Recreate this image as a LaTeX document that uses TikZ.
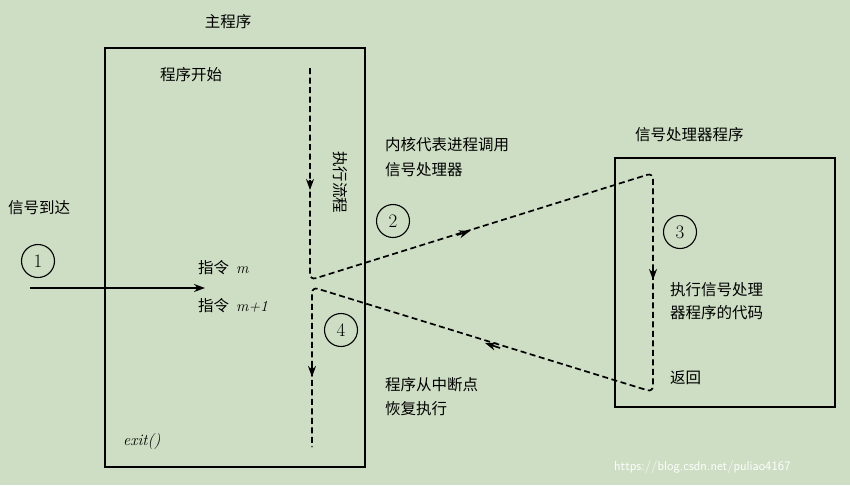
\documentclass[tikz,border=0pt]{standalone}
\usepackage{fontspec}
\newfontfamily\cjk{Noto Sans CJK SC}
\usetikzlibrary{arrows.meta}
\definecolor{bg}{RGB}{206,222,196}
\newcommand{\itm}[1]{{\rmfamily\itshape #1}}
\begin{document}
\begin{tikzpicture}[x=1pt,y=-1pt,
  lbl/.style={font=\cjk\fontsize{15.5}{18}\selectfont,inner sep=0pt,anchor=west},
  circ/.style={draw,circle,line width=1.1pt,minimum size=33pt,inner sep=0pt,font=\fontsize{19}{19}\selectfont},
  box/.style={draw,line width=1.6pt},
  flow/.style={line width=1.7pt,dash pattern=on 6pt off 3.5pt,rounded corners=6pt},
  tip/.style={-{Stealth[length=11pt,width=8pt]},line width=1.7pt}]
\fill[bg] (0,0) rectangle (850,485);
\useasboundingbox (0,0) rectangle (850,485);
\draw[box] (105,48) rectangle (365,467);
\draw[box] (615,158) rectangle (835,407);
\coordinate (a) at (310,68);
\coordinate (b) at (310,280);
\coordinate (c) at (653,173);
\coordinate (d) at (653,392);
\coordinate (e) at (312,287);
\coordinate (f) at (312,447);
\draw[flow] (a) -- (b) -- (c) -- (d) -- (e) -- (f);
\draw[tip] (310,180) -- (310,190);
\draw[tip] (457,235) -- (470,231);
\draw[tip] (653,268) -- (653,280);
\draw[tip] (500,348) -- (485,343);
\draw[tip] (312,365) -- (312,377);
\coordinate (s) at (30,288);
\coordinate (t) at (205,288);
\draw[tip] (s) -- (t);
\node[lbl,anchor=center] (main) at (228,22) {主程序};
\node[lbl] (start) at (160,75) {程序开始};
\node[lbl,rotate=-90,anchor=center] (exec) at (340,182) {执行流程};
\node[lbl] (k1) at (385,145) {内核代表进程调用};
\node[lbl] (k2) at (385,170) {信号处理器};
\node[lbl] (hp) at (635,135) {信号处理器程序};
\node[lbl] (arr) at (8,208) {信号到达};
\node[circ] (c1) at (38,261) {1};
\node[circ] (c2) at (393,221) {2};
\node[circ] (c3) at (680,232) {3};
\node[circ] (c4) at (341,330) {4};
\node[lbl] (im) at (198,268) {指令\ \ \itm{m}};
\node[lbl] (im1) at (198,306) {指令\ \ \itm{m+1}};
\node[lbl] (h1) at (670,290) {执行信号处理};
\node[lbl] (h2) at (670,313) {器程序的代码};
\node[lbl] (ret) at (670,378) {返回};
\node[lbl] (r1) at (385,385) {程序从中断点};
\node[lbl] (r2) at (385,409) {恢复执行};
\node[anchor=west,inner sep=0pt,font=\fontsize{16}{16}\selectfont\itshape] (ex) at (123,441) {exit()};
\node[anchor=west,inner sep=0pt,text=white,font=\sffamily\fontsize{13}{13}\selectfont] (wm) at (614,467) {https://blog.csdn.net/puliao4167};
\end{tikzpicture}
\end{document}
